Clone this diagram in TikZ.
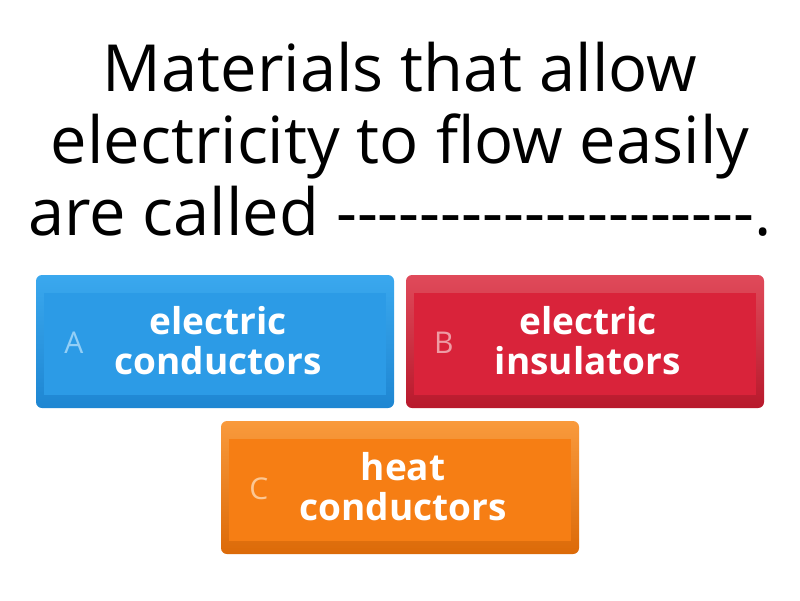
\documentclass[tikz,border=0pt]{standalone}
\usepackage{fontspec}
\setmainfont{Open Sans}[Ligatures=NoCommon]
\definecolor{bluetop}{HTML}{3AA8EE}
\definecolor{blueface}{HTML}{2C9BE6}
\definecolor{bluebot}{HTML}{1E86D2}
\definecolor{redtop}{HTML}{E04A5A}
\definecolor{redface}{HTML}{D9233A}
\definecolor{redbot}{HTML}{B8192C}
\definecolor{orgtop}{HTML}{F99A3C}
\definecolor{orgface}{HTML}{F67E14}
\definecolor{orgbot}{HTML}{DC6A08}
\tikzset{x=1pt,y=-1pt,
 outerbtn/.style={rounded corners=6pt,minimum width=358pt,minimum height=133pt,inner sep=0pt},
 facebtn/.style={minimum width=342pt,minimum height=102pt,inner sep=0pt},
 anstext/.style={text=white,font=\bfseries\fontsize{37}{40}\selectfont,align=center},
 lettertext/.style={font=\fontsize{30}{36}\selectfont},
 titletext/.style={font=\fontsize{65}{72}\selectfont,align=center}}
\newcommand\mybtn[8]{%
 \node[outerbtn,top color=#3,bottom color=#5] (#1) at (#2) {};
 \node[facebtn,fill=#4] (#1f) at ([yshift=-2pt]#1.center) {};
 \node[lettertext,text=#3!55!white] (#1l) at ([xshift=38pt,yshift=-1pt]#1.west) {#6};
 \node[anstext] (#1t) at ([xshift=3pt,yshift=1pt]#1.center) {#7\\#8};
}
\newcommand\dd{{-}}
\begin{document}
\begin{tikzpicture}
\useasboundingbox (0,0) rectangle (800,600);
\fill[white] (0,0) rectangle (800,600);
\node[titletext] (title) at (400,139) {Materials that allow\\electricity to flow easily\\are called \dd\dd\dd\dd\dd\dd\dd\dd\dd\dd\dd\dd\dd\dd\dd\dd\dd\dd\dd\dd.};
\mybtn{a}{215,341.5}{bluetop}{blueface}{bluebot}{A}{electric}{conductors}
\mybtn{b}{585,341.5}{redtop}{redface}{redbot}{B}{electric}{insulators}
\mybtn{c}{400,487.5}{orgtop}{orgface}{orgbot}{C}{heat}{conductors}
\end{tikzpicture}
\end{document}
